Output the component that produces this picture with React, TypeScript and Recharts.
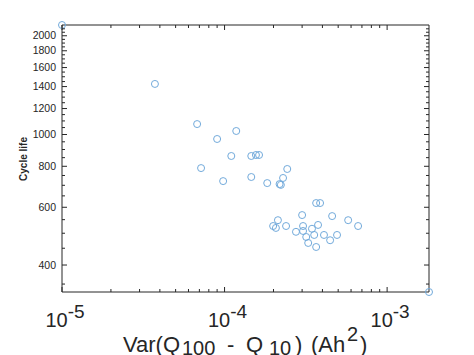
import React from "react";
import { ScatterChart, Scatter, XAxis, YAxis } from "recharts";

// Var(Q100 - Q10) in Ah^2
const varianceAh2 = [
  1e-5, 3.73e-5, 6.78e-5, 1.18e-4, 9.0e-5, 1.1e-4, 1.46e-4, 1.56e-4, 1.63e-4, 7.17e-5,
  9.8e-5, 1.46e-4, 1.83e-4, 2.18e-4, 2.22e-4, 2.29e-4, 2.43e-4, 3.66e-4, 3.87e-4, 3.0e-4,
  4.59e-4, 5.76e-4, 6.63e-4, 2.13e-4, 1.99e-4, 2.07e-4, 2.39e-4, 3.04e-4, 3.76e-4, 2.75e-4,
  3.04e-4, 3.45e-4, 4.09e-4, 4.92e-4, 3.18e-4, 3.56e-4, 3.27e-4, 4.46e-4, 3.66e-4, 1.81e-3,
];
const cycleLife = [
  2157, 1426, 1076, 1025, 969, 860, 860, 866, 866, 790,
  721, 742, 711, 706, 702, 737, 785, 618, 618, 568,
  564, 548, 526, 548, 526, 519, 526, 526, 530, 505,
  508, 516, 494, 494, 487, 494, 467, 476, 454, 331,
];

const X_DOMAIN = [1e-5, 1.81e-3];
const Y_DOMAIN = [331, 2157];

const X_MAJOR = [1e-5, 1e-4, 1e-3];
const X_MAJOR_EXP = ["-5", "-4", "-3"];
const X_MINOR = [2e-5, 3e-5, 4e-5, 5e-5, 6e-5, 7e-5, 8e-5, 9e-5, 2e-4, 3e-4, 4e-4, 5e-4, 6e-4, 7e-4, 8e-4, 9e-4];

const Y_MAJOR = [400, 600, 800, 1000, 1200, 1400, 1600, 1800, 2000];
const Y_MINOR = [350, 450, 500, 550, 650, 700, 750, 850, 900, 950, 1050, 1100, 1150, 1250, 1300, 1350, 1450, 1500, 1550, 1650, 1700, 1750, 1850, 1900, 1950, 2050, 2100];

const data = varianceAh2.map((v, i) => ({ v, life: cycleLife[i] }));

const W = 474;
const H = 355;
const PLOT = { left: 62, top: 25, right: 429, bottom: 292 };
const AXIS = "#262626";
const MARKER = "#72aadb";
const FONT = "'Liberation Sans', Arial, sans-serif";

const xTicks = [...X_MAJOR, ...X_MINOR];
const yTicks = [...Y_MAJOR, ...Y_MINOR];

const BottomTick = (props: any) => {
  const { x, payload } = props;
  const idx = X_MAJOR.indexOf(payload.value);
  const major = idx >= 0;
  return (
    <g>
      <line x1={x} x2={x} y1={PLOT.bottom} y2={PLOT.bottom - (major ? 5 : 3)} stroke={AXIS} strokeWidth={1} />
      {major && (
        <text x={x + 3} y={327} textAnchor="middle" fontSize={20} fontFamily={FONT} fill={AXIS}>
          10
          <tspan dy={-9} fontSize={19}>
            {X_MAJOR_EXP[idx]}
          </tspan>
        </text>
      )}
    </g>
  );
};

const TopTick = (props: any) => {
  const { x, payload } = props;
  const major = X_MAJOR.includes(payload.value);
  return <line x1={x} x2={x} y1={PLOT.top} y2={PLOT.top + (major ? 5 : 3)} stroke={AXIS} strokeWidth={1} />;
};

const LeftTick = (props: any) => {
  const { y, payload } = props;
  const major = Y_MAJOR.includes(payload.value);
  return (
    <g>
      <line x1={PLOT.left} x2={PLOT.left + (major ? 5 : 3)} y1={y} y2={y} stroke={AXIS} strokeWidth={1} />
      {major && (
        <text x={56} y={y} dy={3.6} textAnchor="end" fontSize={10.5} fontFamily={FONT} fill={AXIS}>
          {payload.value}
        </text>
      )}
    </g>
  );
};

const RightTick = (props: any) => {
  const { y, payload } = props;
  const major = Y_MAJOR.includes(payload.value);
  return <line x1={PLOT.right} x2={PLOT.right - (major ? 5 : 3)} y1={y} y2={y} stroke={AXIS} strokeWidth={1} />;
};

// MATLAB-style TeX label, pieces placed where the reference puts them
const XLabel = () => (
  <text y={352} fontSize={22} fontFamily={FONT} fill={AXIS}>
    <tspan x={123}>Var(Q</tspan>
    <tspan x={182} dy={3} fontSize={20}>100</tspan>
    <tspan x={227} dy={-3}>-</tspan>
    <tspan x={246}>Q</tspan>
    <tspan x={269} dy={3} fontSize={20}>10</tspan>
    <tspan x={295} dy={-3}>)</tspan>
    <tspan x={311}>(Ah</tspan>
    <tspan x={347} dy={-11} fontSize={20}>2</tspan>
    <tspan x={360} dy={11}>)</tspan>
  </text>
);

const YLabel = () => (
  <text
    x={23}
    y={159}
    transform="rotate(-90 23 159)"
    textAnchor="middle"
    dy={3.5}
    fontSize={10}
    fontWeight="bold"
    fontFamily={FONT}
    fill={AXIS}
  >
    Cycle life
  </text>
);

const Ring = (props: any) => {
  const { cx, cy } = props;
  return <circle cx={cx} cy={cy} r={3.5} fill="none" stroke={MARKER} strokeWidth={1} />;
};

const Nothing = () => <g />;

export default function App() {
  return (
    <div style={{ position: "absolute", left: 0, top: 0, background: "#fff" }}>
      <ScatterChart width={W} height={H} margin={{ top: 0, right: 0, bottom: 0, left: 0 }}>
        <XAxis
          xAxisId="b"
          type="number"
          dataKey="v"
          scale="log"
          domain={X_DOMAIN}
          ticks={xTicks}
          interval={0}
          height={H - PLOT.bottom}
          tickSize={0}
          tick={BottomTick}
          axisLine={{ stroke: AXIS, strokeWidth: 1 }}
          label={{ content: XLabel }}
        />
        <XAxis
          xAxisId="t"
          orientation="top"
          type="number"
          dataKey="v"
          scale="log"
          domain={X_DOMAIN}
          ticks={xTicks}
          interval={0}
          height={PLOT.top}
          tickSize={0}
          tick={TopTick}
          axisLine={{ stroke: AXIS, strokeWidth: 1 }}
        />
        <YAxis
          yAxisId="l"
          type="number"
          dataKey="life"
          scale="log"
          domain={Y_DOMAIN}
          ticks={yTicks}
          interval={0}
          width={PLOT.left}
          tickSize={0}
          tick={LeftTick}
          axisLine={{ stroke: AXIS, strokeWidth: 1 }}
          label={{ content: YLabel }}
        />
        <YAxis
          yAxisId="r"
          orientation="right"
          type="number"
          dataKey="life"
          scale="log"
          domain={Y_DOMAIN}
          ticks={yTicks}
          interval={0}
          width={W - PLOT.right}
          tickSize={0}
          tick={RightTick}
          axisLine={{ stroke: AXIS, strokeWidth: 1 }}
        />
        <Scatter data={data} xAxisId="t" yAxisId="r" shape={Nothing} isAnimationActive={false} />
        <Scatter data={data} xAxisId="b" yAxisId="l" shape={Ring} isAnimationActive={false} />
      </ScatterChart>
    </div>
  );
}
